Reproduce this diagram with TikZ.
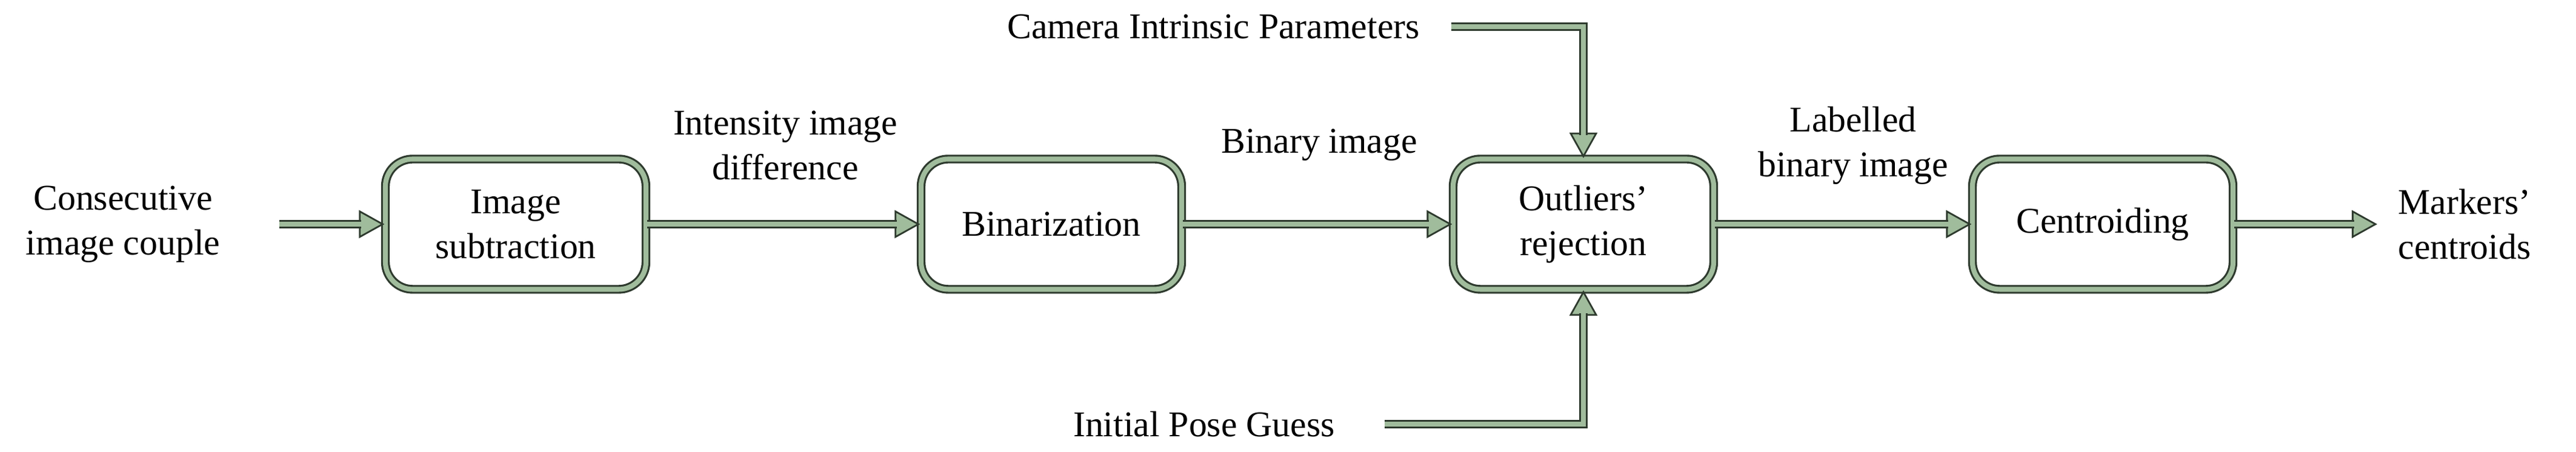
\documentclass[tikz,border=0pt]{standalone}
\usepackage{fontspec}
\setmainfont{Liberation Serif}
\usetikzlibrary{arrows.meta}
\definecolor{gfill}{HTML}{A0BC9C}
\definecolor{gdark}{HTML}{2E3A2E}
\tikzset{
  box/.style={draw=gdark, line width=0.9pt, double=gfill, double distance=2.3pt,
    rounded corners=0.45cm, minimum width=4.3cm, minimum height=2.15cm, fill=white,
    align=center, font=\fontsize{17}{21}\selectfont},
  lbl/.style={align=center, font=\fontsize{17}{21}\selectfont},
  tipline/.style={draw=gdark, line width=0.8pt, -{Triangle[length=0.42cm,width=0.46cm,fill=gfill]}},
  shaft/.style={draw=gdark, line width=0.9pt, double=gfill, double distance=2.2pt, shorten >=0.38cm},
}
\newcommand\garrow[1]{\draw[tipline] #1; \draw[shaft] #1;}
\begin{document}
\begin{tikzpicture}
\useasboundingbox (0,0) rectangle (42.51,7.46);
\node[box] (b1) at (8.51,3.76) {Image\\subtraction};
\node[box] (b2) at (17.35,3.76) {Binarization};
\node[box] (b3) at (26.13,3.76) {Outliers'\\rejection};
\node[box] (b4) at (34.70,3.76) {Centroiding};
\node[lbl] (tin) at (2.03,3.76) {Consecutive\\image couple};
\node[lbl] (tout) at (40.67,3.76) {Markers'\\centroids};
\node[lbl] (t1) at (12.96,5.06) {Intensity image\\difference};
\node[lbl] (t2) at (21.77,5.07) {Binary image};
\node[lbl] (t3) at (30.58,5.06) {Labelled\\binary image};
\node[lbl, anchor=east] (tcam) at (23.55,7.02) {Camera Intrinsic Parameters};
\node[lbl, anchor=east] (tpose) at (22.15,0.46) {Initial Pose Guess};
\coordinate (s0) at (4.61,3.76);
\coordinate (e0) at (39.23,3.76);
\coordinate (c0) at (23.95,7.02);
\coordinate (p0) at (22.85,0.46);
\garrow{(s0) -- (b1.west)}
\garrow{(b1.east) -- (b2.west)}
\garrow{(b2.east) -- (b3.west)}
\garrow{(b3.east) -- (b4.west)}
\garrow{(b4.east) -- (e0)}
\garrow{(c0) -| (b3.north)}
\garrow{(p0) -| (b3.south)}
\end{tikzpicture}
\end{document}
